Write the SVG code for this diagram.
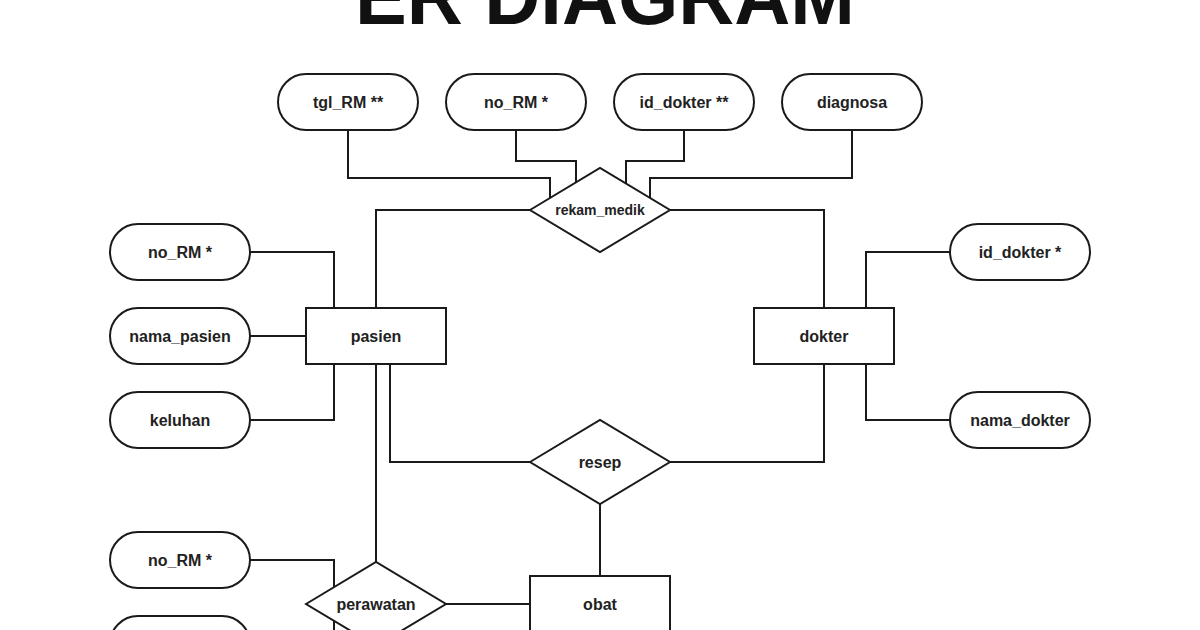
<svg xmlns="http://www.w3.org/2000/svg" width="1200" height="630" viewBox="0 0 1200 630">
<style>
.s{fill:#fff;stroke:#1a1a1a;stroke-width:2}
.c{fill:none;stroke:#1a1a1a;stroke-width:2}
text{font-family:"Liberation Sans",Arial,sans-serif;font-size:16px;font-weight:bold;fill:#222;text-anchor:middle;dominant-baseline:central}
</style>
<rect width="1200" height="630" fill="#fff"/>
<text x="605" y="0" style="font-size:80px;font-weight:900;fill:#111;dominant-baseline:auto" textLength="500" lengthAdjust="spacingAndGlyphs" transform="translate(0,24)">ER DIAGRAM</text>
<g id="connectors">
<path class="c" d="M348 130V178H550V200M516 130V161H576V190M684 130V161H626V190M852 130V178H650V200"/>
<path class="c" d="M530 210H376V308M670 210H824V308"/>
<path class="c" d="M250 252H334V308M250 336H306M250 420H334V364"/>
<path class="c" d="M950 252H866V308M950 420H866V364"/>
<path class="c" d="M390 364V462H530M824 364V462H670M600 504V576"/>
<path class="c" d="M376 364V562M446 604H530M250 560H334V630"/>
</g>
<g id="tgl_RM"><rect class="s" x="278" y="74" width="140" height="56" rx="28"/><text x="348" y="102">tgl_RM **</text></g>
<g id="no_RM_rm"><rect class="s" x="446" y="74" width="140" height="56" rx="28"/><text x="516" y="102">no_RM *</text></g>
<g id="id_dokter_rm"><rect class="s" x="614" y="74" width="140" height="56" rx="28"/><text x="684" y="102">id_dokter **</text></g>
<g id="diagnosa"><rect class="s" x="782" y="74" width="140" height="56" rx="28"/><text x="852" y="102">diagnosa</text></g>
<g id="rekam_medik"><polygon class="s" points="530,210 600,168 670,210 600,252"/><text x="600" y="210" style="font-size:14px">rekam_medik</text></g>
<g id="no_RM_p"><rect class="s" x="110" y="224" width="140" height="56" rx="28"/><text x="180" y="252">no_RM *</text></g>
<g id="nama_pasien"><rect class="s" x="110" y="308" width="140" height="56" rx="28"/><text x="180" y="336">nama_pasien</text></g>
<g id="keluhan"><rect class="s" x="110" y="392" width="140" height="56" rx="28"/><text x="180" y="420">keluhan</text></g>
<g id="pasien"><rect class="s" x="306" y="308" width="140" height="56"/><text x="376" y="336">pasien</text></g>
<g id="dokter"><rect class="s" x="754" y="308" width="140" height="56"/><text x="824" y="336">dokter</text></g>
<g id="id_dokter"><rect class="s" x="950" y="224" width="140" height="56" rx="28"/><text x="1020" y="252">id_dokter *</text></g>
<g id="nama_dokter"><rect class="s" x="950" y="392" width="140" height="56" rx="28"/><text x="1020" y="420">nama_dokter</text></g>
<g id="resep"><polygon class="s" points="530,462 600,420 670,462 600,504"/><text x="600" y="462">resep</text></g>
<g id="obat"><rect class="s" x="530" y="576" width="140" height="60"/><text x="600" y="604">obat</text></g>
<g id="no_RM_w"><rect class="s" x="110" y="532" width="140" height="56" rx="28"/><text x="180" y="560">no_RM *</text></g>
<g id="attr_cut"><rect class="s" x="110" y="616" width="140" height="56" rx="28"/></g>
<g id="perawatan"><polygon class="s" points="306,604 376,562 446,604 376,646"/><text x="376" y="604">perawatan</text></g>
</svg>
